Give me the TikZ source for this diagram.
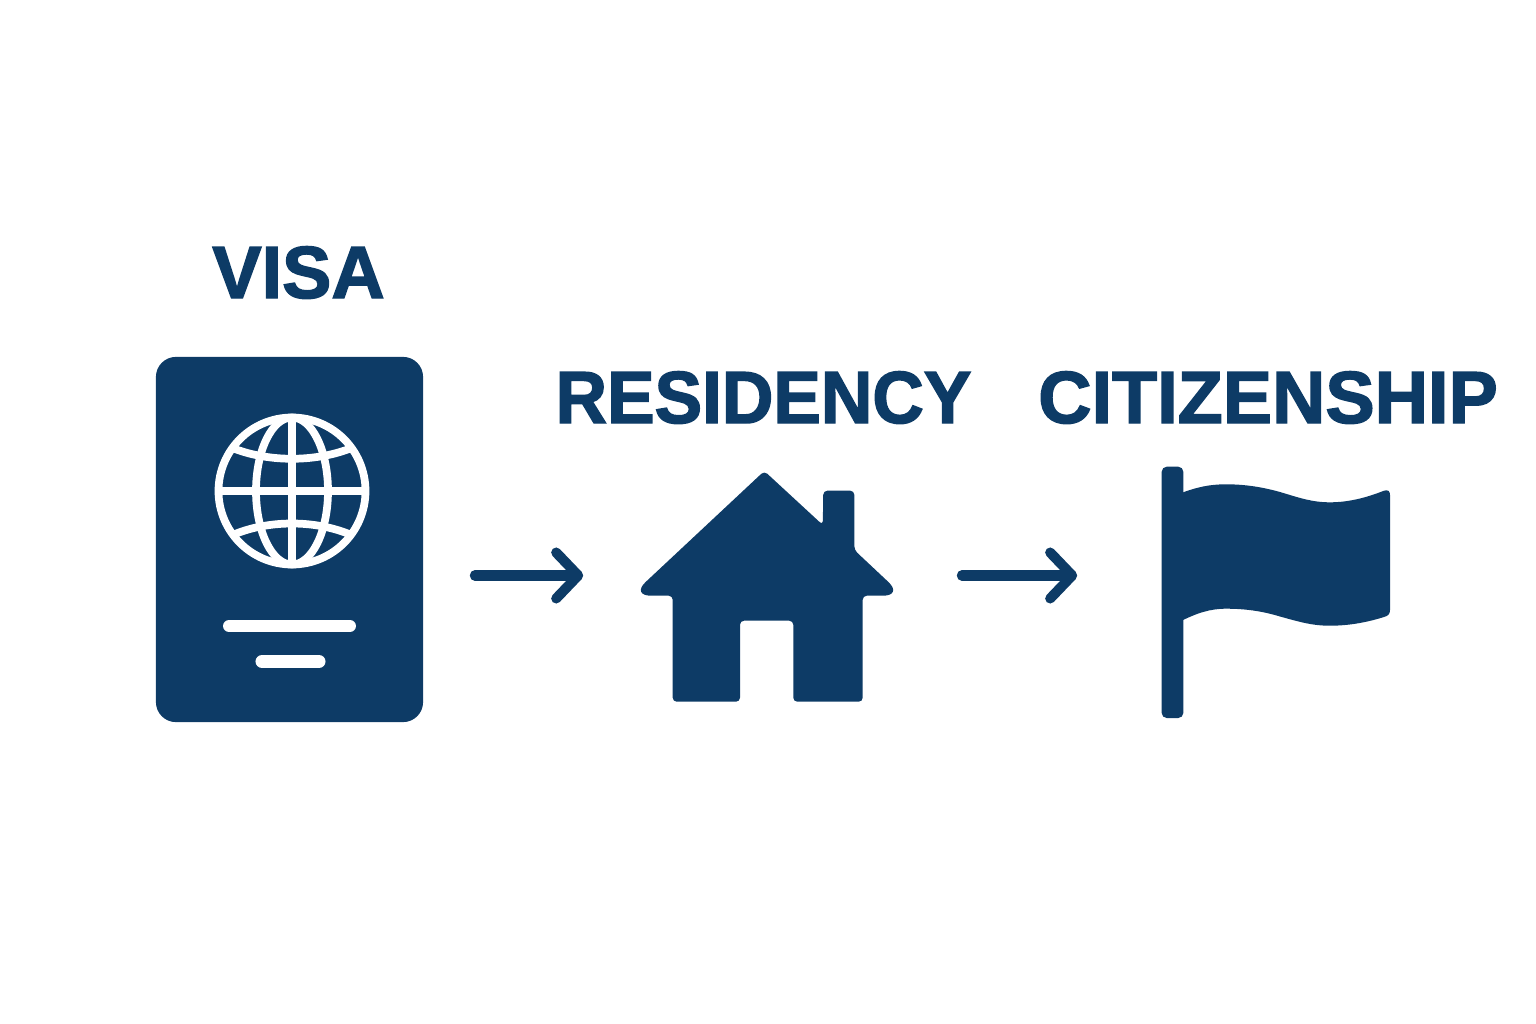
\documentclass[tikz,border=0pt]{standalone}
\usepackage{fontspec}
\setmainfont{Liberation Sans}[BoldFeatures={FakeBold=2}]
\usetikzlibrary{arrows.meta}
\definecolor{navy}{HTML}{0D3B66}
\tikzset{
  stagelabel/.style={text=navy,anchor=base,font=\fontsize{21}{24}\selectfont\bfseries},
  flowarrow/.style={navy,line width=2.85pt,line cap=round,-{Straight Barb[length=0.22cm,width=0.46cm,round]}},
  globeline/.style={white,line width=2.2pt},
  bookline/.style={white,line cap=round}
}

\begin{document}
\begin{tikzpicture}[x=0.01cm,y=0.01cm]
\tikzstyle{every node}+=[inner sep=0pt]
\useasboundingbox (0,0) rectangle (1536,-1024);
\node [stagelabel] (visalabel) at (298.5,-298) {VISA};
\node [stagelabel] (residencylabel) at (763.5,-423) {\scalebox{0.965}[1]{RESIDENCY}};
\node [stagelabel] (citizenshiplabel) at (1268,-423) {CITIZENSHIP};
% passport
\node [fill=navy,rounded corners=0.2cm,minimum width=2.67cm,minimum height=3.65cm] (passport) at (289.5,-539.5) {};
\draw [globeline] (292,-491) circle (73.5);
\draw [globeline] (292,-491) ellipse (36 and 73.5);
\draw [globeline] (292,-417.5) -- (292,-564.5);
\draw [globeline] (218.5,-491) -- (365.5,-491);
\draw [globeline] (235,-449) .. controls (270,-462) and (314,-462) .. (349,-449);
\draw [globeline] (235,-534) .. controls (270,-520) and (314,-520) .. (349,-534);
\draw [bookline,line width=3.4pt] (229,-626) -- (350,-626);
\draw [bookline,line width=3.7pt] (262,-661.5) -- (319,-661.5);
% house
\node [minimum width=2.51cm,minimum height=2.3cm] (house) at (766.5,-587) {};
\fill [navy,rounded corners=0.04cm] (764.3,-471) -- (822.8,-525) -- (823.3,-490.7) -- (854.3,-490.7) -- (854.3,-550)
  {[rounded corners=0.2cm] -- (903,-595.7)} -- (862.7,-595.7) -- (862.7,-701.7) -- (793.3,-701.7) -- (793.3,-620.7)
  -- (740,-620.7) -- (740,-701.7) -- (672.7,-701.7) -- (672.7,-595.7)
  {[rounded corners=0.2cm] -- (631,-595.7)} -- cycle;
% flag
\node [minimum width=2.28cm,minimum height=2.51cm] (flag) at (1276,-592.5) {};
\fill [navy,rounded corners=0.05cm] (1161.7,-466.7) -- (1183.3,-466.7) -- (1183.3,-718) -- (1161.7,-718) -- cycle;
\fill [navy] (1180,-493.5) .. controls (1197,-487) and (1210,-484.3) .. (1226,-484.3)
  .. controls (1245,-484.3) and (1262,-487) .. (1280,-492)
  .. controls (1300,-498) and (1312,-502.3) .. (1330,-502.3)
  .. controls (1350,-502.3) and (1368,-497) .. (1384,-490.7)
  .. controls (1388,-489.5) and (1390,-491) .. (1390,-495) -- (1390,-610)
  .. controls (1390,-614) and (1388,-616) .. (1384,-617)
  .. controls (1368,-622) and (1350,-625.7) .. (1330,-625.7)
  .. controls (1312,-625.7) and (1300,-622) .. (1280,-616.5)
  .. controls (1262,-611) and (1245,-608.7) .. (1226,-608.7)
  .. controls (1210,-608.7) and (1197,-613) .. (1180,-621.5) -- cycle;
% arrows
\coordinate (flowrow) at (0,-575.5);
\draw [flowarrow,shorten <=0.51cm,shorten >=0.57cm] (passport.east |- flowrow) -- (house.west |- flowrow);
\draw [flowarrow,shorten <=0.69cm,shorten >=0.84cm] (house.east |- flowrow) -- (flag.west |- flowrow);
\end{tikzpicture}
\end{document}
